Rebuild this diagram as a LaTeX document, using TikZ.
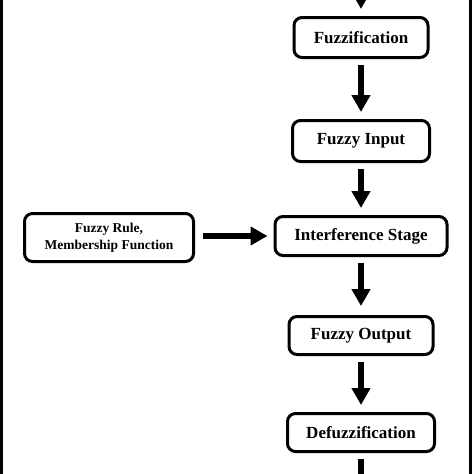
\documentclass[tikz,border=0pt]{standalone}
\usepackage{fontspec}
\setmainfont{Liberation Serif}
\usetikzlibrary{arrows.meta}

\tikzset{
  stage/.style={draw, line width=3pt, rounded corners=8pt, inner sep=0pt,
    align=center, font=\bfseries\fontsize{17}{20}\selectfont},
  flow/.style={line width=6pt, -{Triangle[length=17pt,width=18pt]}},
}

\begin{document}
\begin{tikzpicture}[x=1pt, y=-1pt]
    \useasboundingbox (0,0) rectangle (474,474);

    % frame
    \draw[line width=3pt] (1.5,0) -- (1.5,474);
    \draw[line width=3pt] (470.5,0) -- (470.5,474);

    % stages
    \node[stage, minimum width=134pt, minimum height=40pt] (fuzzif) at (361,37.5) {Fuzzification};
    \node[stage, minimum width=137pt, minimum height=41pt] (input) at (361,141) {Fuzzy Input};
    \node[stage, minimum width=172pt, minimum height=39pt] (infer) at (361,236) {Interference Stage};
    \node[stage, minimum width=144pt, minimum height=38pt] (output) at (361,335.5) {Fuzzy Output};
    \node[stage, minimum width=147pt, minimum height=38pt] (defuzz) at (361,432.5) {Defuzzification};

    % rule base
    \node[stage, minimum width=169pt, minimum height=48pt,
      font=\bfseries\fontsize{13.5}{17}\selectfont] (rule) at (109,237.5) {Fuzzy Rule,\\Membership Function};

    % flow in and out
    \coordinate (in) at (361,-20);
    \coordinate (out) at (361,500);

    % arrows
    \draw[flow, shorten >=7pt] (in) -- (fuzzif.north);
    \draw[flow, shorten <=6pt, shorten >=7pt] (fuzzif.south) -- (input.north);
    \draw[flow, shorten <=6pt, shorten >=7pt] (input.south) -- (infer.north);
    \draw[flow, shorten <=6pt, shorten >=9pt] (infer.south) -- (output.north);
    \draw[flow, shorten <=6pt, shorten >=7pt] (output.south) -- (defuzz.north);
    \draw[flow, shorten <=6pt] (defuzz.south) -- (out);
    \draw[flow, shorten <=8pt, shorten >=6pt] (rule.east |- infer.west) -- (infer.west);
\end{tikzpicture}
\end{document}
